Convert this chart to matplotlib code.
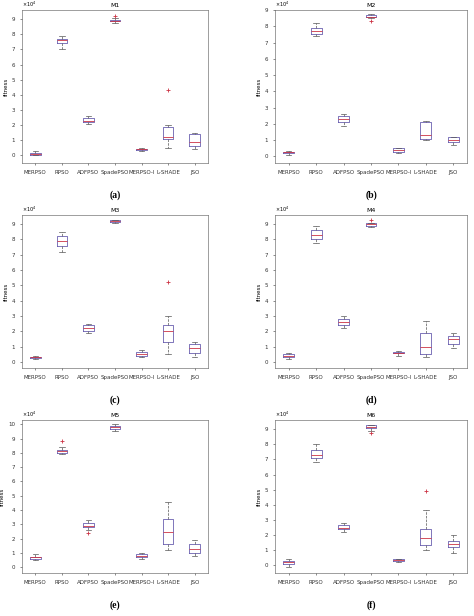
import matplotlib
matplotlib.use("Agg")
import matplotlib.pyplot as plt
from matplotlib.ticker import MultipleLocator

algorithms = ["MERPSO", "RPSO", "ADFPSO", "SpadePSO", "MERPSO-I", "L-SHADE", "JSO"]
titles = ["M1", "M2", "M3", "M4", "M5", "M6"]
captions = ["(a)", "(b)", "(c)", "(d)", "(e)", "(f)"]

# per panel: list of (whislo, q1, med, q3, whishi, fliers) in units of 1e4
m1 = [(0.0, 0.05, 0.1, 0.15, 0.3, []), (7.0, 7.4, 7.6, 7.7, 7.9, []), (2.1, 2.2, 2.3, 2.5, 2.6, []),
      (8.75, 8.85, 8.9, 8.95, 9.05, [9.2]), (0.3, 0.35, 0.4, 0.45, 0.5, []),
      (0.5, 1.1, 1.2, 1.9, 2.0, [4.3]), (0.4, 0.6, 0.9, 1.4, 1.5, [])]
m2 = [(0.1, 0.2, 0.25, 0.3, 0.35, []), (7.4, 7.5, 7.7, 7.9, 8.2, []), (1.9, 2.1, 2.3, 2.5, 2.6, []),
      (8.5, 8.55, 8.6, 8.7, 8.75, [8.3]), (0.2, 0.3, 0.4, 0.5, 0.55, []),
      (1.0, 1.1, 1.3, 2.1, 2.2, []), (0.7, 0.9, 1.0, 1.2, 1.2, [])]
m3 = [(0.2, 0.25, 0.3, 0.35, 0.4, []), (7.2, 7.6, 7.9, 8.2, 8.5, []), (1.9, 2.0, 2.2, 2.4, 2.5, []),
      (9.1, 9.15, 9.2, 9.25, 9.3, []), (0.3, 0.4, 0.5, 0.65, 0.8, []),
      (0.5, 1.3, 2.0, 2.4, 3.0, [5.2]), (0.3, 0.6, 0.9, 1.2, 1.3, [])]
m4 = [(0.2, 0.3, 0.4, 0.5, 0.55, []), (7.8, 8.0, 8.3, 8.6, 8.9, []), (2.2, 2.4, 2.6, 2.8, 3.0, []),
      (8.8, 8.9, 9.0, 9.05, 9.1, [9.3]), (0.4, 0.55, 0.6, 0.65, 0.7, []),
      (0.3, 0.5, 1.0, 1.9, 2.7, []), (0.9, 1.2, 1.5, 1.7, 1.9, [])]
m5 = [(0.5, 0.6, 0.7, 0.75, 0.9, []), (7.9, 8.0, 8.1, 8.2, 8.4, [8.8]), (2.6, 2.8, 2.9, 3.1, 3.3, [2.4]),
      (9.5, 9.7, 9.8, 9.9, 10.0, []), (0.6, 0.7, 0.8, 0.9, 1.0, []),
      (1.2, 1.6, 2.5, 3.4, 4.6, []), (0.8, 1.0, 1.3, 1.6, 1.9, [])]
m6 = [(-0.1, 0.1, 0.2, 0.3, 0.45, []), (6.8, 7.1, 7.3, 7.6, 8.0, []), (2.2, 2.4, 2.5, 2.65, 2.8, []),
      (8.9, 9.1, 9.15, 9.25, 9.3, [8.75]), (0.2, 0.28, 0.35, 0.4, 0.45, []),
      (1.05, 1.35, 1.8, 2.4, 3.65, [4.9]), (0.8, 1.2, 1.4, 1.6, 2.0, [])]
panels = [m1, m2, m3, m4, m5, m6]
ylims = [(-0.5, 9.6), (-0.4, 9.0), (-0.4, 9.6), (-0.4, 9.6), (-0.4, 10.3), (-0.5, 9.6)]

W, H = 474, 616
fig = plt.figure(figsize=(W / 100, H / 100), dpi=100)
plt.rcParams['font.family'] = ['DejaVu Sans']

box_c = "#6a5fb0"
for i, data in enumerate(panels):
    r, c = divmod(i, 2)
    x0 = 22 if c == 0 else 275
    w = 186 if c == 0 else 192
    y0 = 10 + 205 * r
    ax = fig.add_axes([x0 / W, 1 - (y0 + 153) / H, w / W, 153 / H])
    stats = [dict(whislo=s[0], q1=s[1], med=s[2], q3=s[3], whishi=s[4], fliers=s[5], label=a)
             for s, a in zip(data, algorithms)]
    ax.bxp(stats, widths=0.4,
           boxprops=dict(color=box_c, lw=0.6),
           whiskerprops=dict(color="#555555", lw=0.5, ls="--"),
           capprops=dict(color="#555555", lw=0.5),
           medianprops=dict(color="#cc3344", lw=0.6),
           flierprops=dict(marker="+", markeredgecolor="#cc3344", markersize=3, markeredgewidth=0.6))
    ax.set_ylim(*ylims[i])
    ax.yaxis.set_major_locator(MultipleLocator(1))
    ax.tick_params(labelsize=4, length=1.5, width=0.4, colors="#333333")
    for sp in ax.spines.values():
        sp.set_linewidth(0.4)
        sp.set_color("#555555")
    ax.set_title(titles[i], fontsize=4.5, pad=2)
    ax.set_ylabel("fitness", fontsize=4, labelpad=2)
    ax.text(0, 1.005, "×10$^4$", transform=ax.transAxes, fontsize=3.5, va="bottom")
    fig.text((x0 + w / 2) / W, 1 - (y0 + 185) / H, captions[i], ha="center", va="center",
             fontsize=7, fontfamily="Liberation Serif", fontweight="bold")

fig.savefig("out.png", dpi=100)
